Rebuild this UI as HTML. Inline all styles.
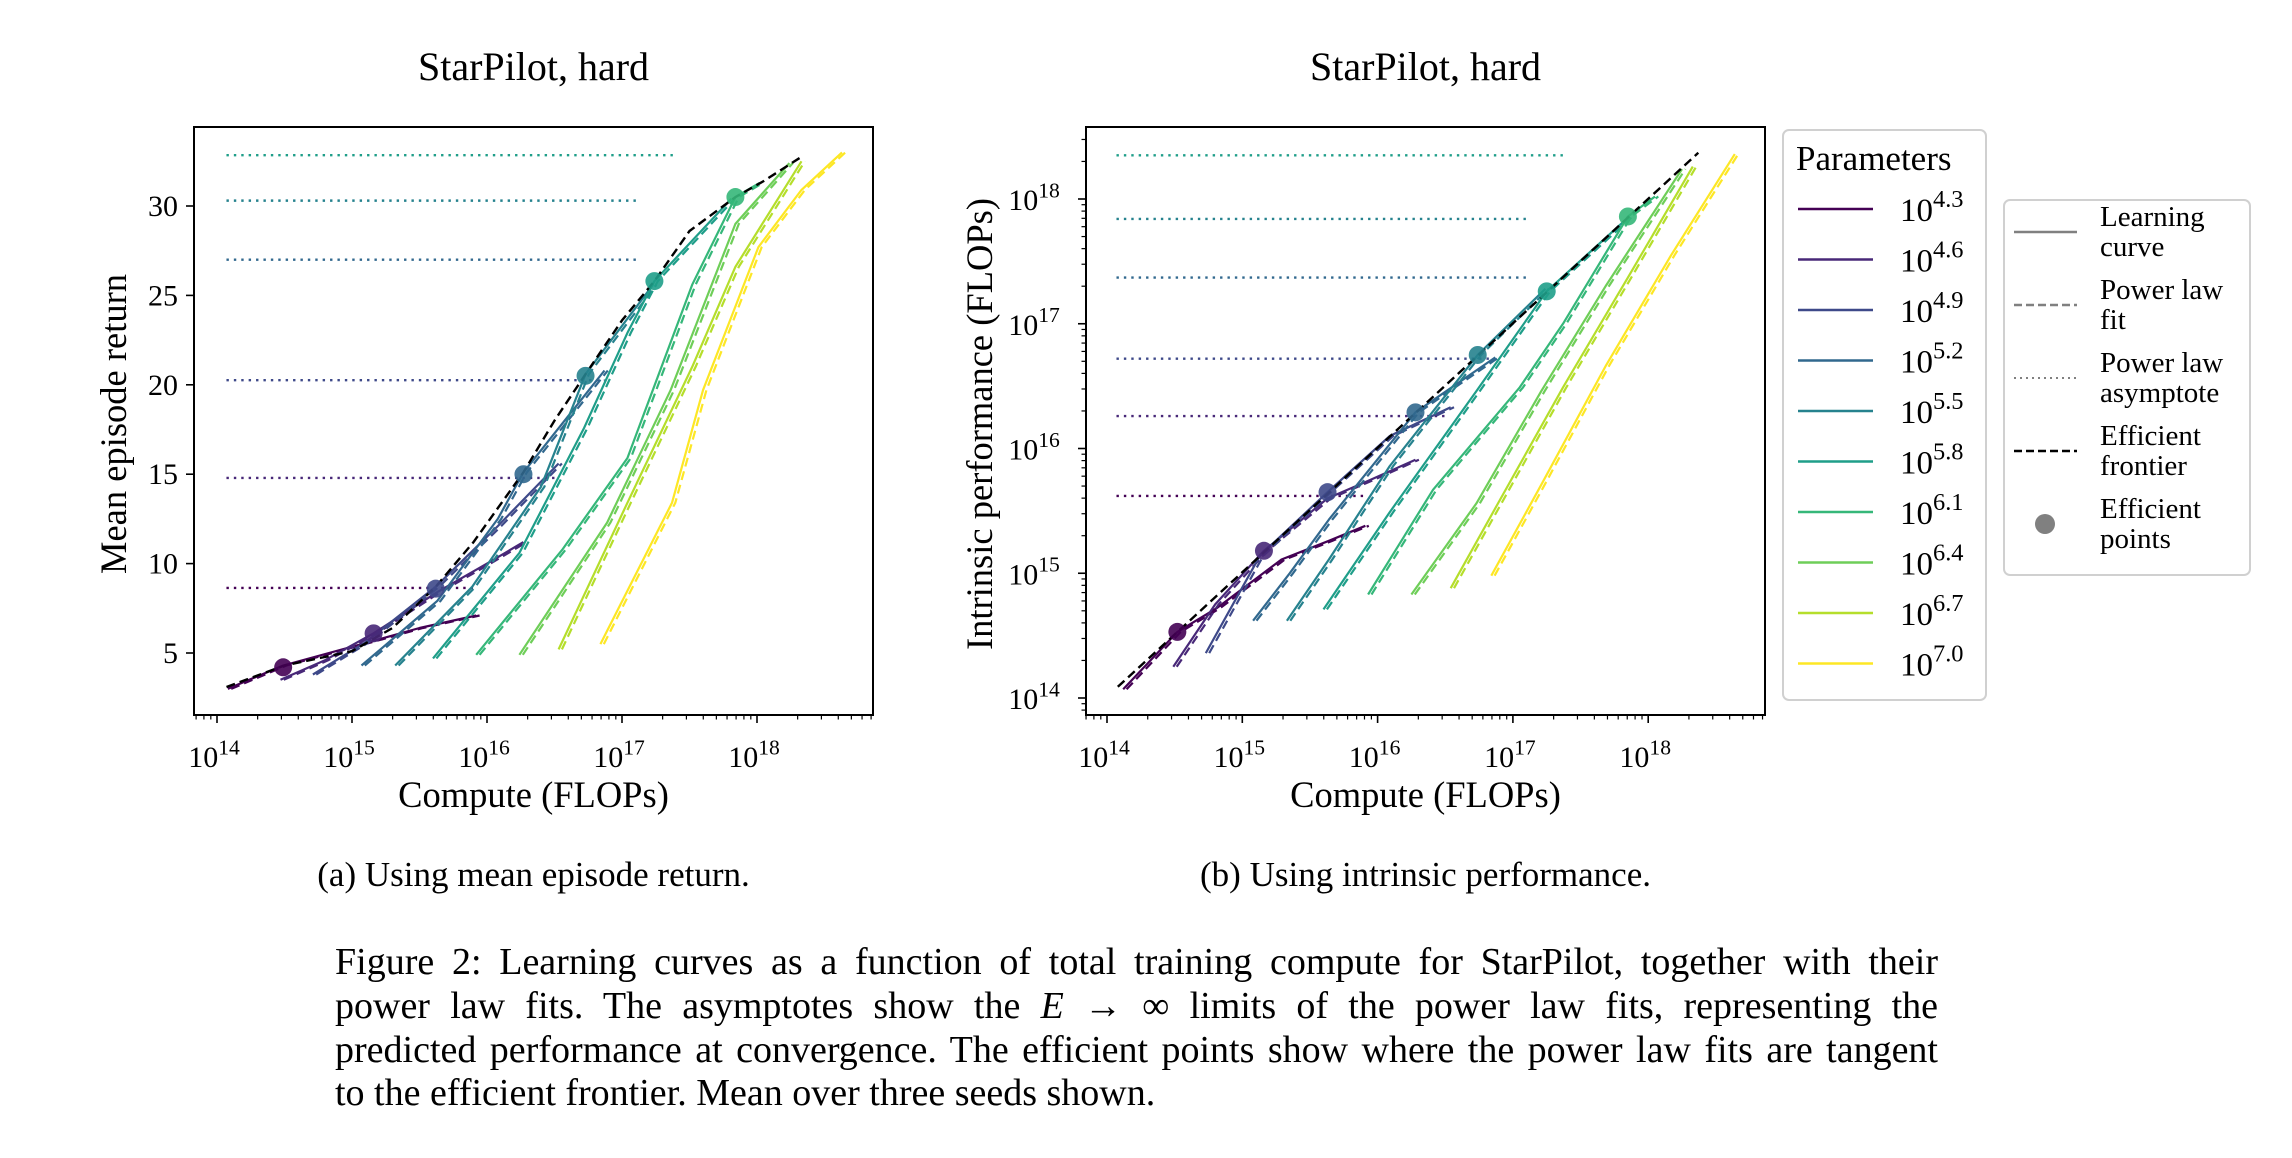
<!DOCTYPE html>
<html><head><meta charset="utf-8">
<style>
html,body{margin:0;padding:0;background:#fff;}
#wrap{position:relative;width:2292px;height:1158px;overflow:hidden;background:#fff;}
svg text{font-family:"Liberation Serif",serif;fill:#000;}
#cap{position:absolute;left:335px;top:941px;width:1603px;font-family:"Liberation Serif",serif;font-size:38px;line-height:43.8px;color:#000;}
#cap .ln{text-align:justify;text-align-last:justify;white-space:nowrap;}
#cap .ln.last{text-align-last:left;}
</style></head>
<body>
<div id="wrap">
<svg id="svg" width="2292" height="1158" xmlns="http://www.w3.org/2000/svg">
  <g id="gA"></g>
  <g id="gB"></g>
  <g id="gL"></g>
</svg>
<div id="cap">
<div class="ln">Figure 2: Learning curves as a function of total training compute for StarPilot, together with their</div>
<div class="ln">power law fits. The asymptotes show the <i>E</i> → ∞ limits of the power law fits, representing the</div>
<div class="ln">predicted performance at convergence. The efficient points show where the power law fits are tangent</div>
<div class="ln last">to the efficient frontier. Mean over three seeds shown.</div>
</div>
</div>
<script>
// ---------- data ----------
const paramExps = [4.3,4.6,4.9,5.2,5.5,5.8,6.1,6.4,6.7,7.0];
const palette = ["#440154","#482878","#3e4989","#31688e","#26828e","#1f9e89","#35b779","#6ece58","#b5de2b","#fde725"];

// Panel (a): log10 compute and mean episode return per model
const returnCompute = [
 [14.08,14.49,15.12,15.5,15.92],
 [14.47,14.8,15.16,15.63,16.0,16.27],
 [14.71,15.1,15.62,16.08,16.53],
 [15.07,15.63,16.08,16.27,16.87],
 [15.32,15.89,16.40,16.73,17.23],
 [15.60,16.24,16.72,17.04,17.24,17.81],
 [15.92,16.56,17.04,17.52,17.84,18.02],
 [16.24,16.89,17.36,17.84,18.24],
 [16.53,17.04,17.52,17.84,18.33],
 [16.84,17.37,17.60,18.01,18.33,18.63]
];
const returnValues = [
 [3.0,4.3,5.6,6.4,7.1],
 [3.5,4.6,6.1,8.4,10.0,11.2],
 [3.8,5.6,8.7,12.1,15.6],
 [4.3,7.9,12.5,15.1,20.8],
 [4.3,8.7,14.3,20.6,25.6],
 [4.7,10.6,17.6,22.9,25.8,30.4],
 [4.9,10.8,15.9,25.6,30.5,31.3],
 [4.9,12.3,19.7,29.0,32.4],
 [5.2,13.4,21.0,26.6,32.5],
 [5.5,13.4,19.7,27.7,30.9,33.0]
];
const frontierACompute = [14.07,14.5,15.0,15.3,15.62,15.9,16.27,16.5,16.73,17.0,17.24,17.5,17.84,18.05,18.34];
const frontierAReturn  = [3.1,4.3,5.1,6.4,8.7,11.2,15.1,18.0,20.6,23.6,25.8,28.6,30.5,31.4,32.8];
const effACompute = [14.49,15.16,15.62,16.27,16.73,17.24,17.84];
const effAReturn  = [4.2,6.1,8.6,15.0,20.5,25.8,30.5];
const asymAReturn = [8.64,14.79,20.26,27.0,30.3,32.84];
const asymEndFix  = [15.92,16.51,16.87,17.11,17.11,17.40];

// Panel (b): log10 compute and log10 intrinsic performance
const intrCompute = [
 [14.12,14.52,14.81,15.29,15.64,15.91],
 [14.49,14.8,15.16,15.63,15.93,16.28],
 [14.73,15.13,15.63,16.09,16.54],
 [15.08,15.35,15.64,16.28,16.87],
 [15.33,15.64,16.09,16.74,17.24],
 [15.60,16.09,16.73,17.25,17.85],
 [15.93,16.41,17.05,17.37,17.85,18.05],
 [16.25,16.73,17.21,17.69,18.25],
 [16.54,16.89,17.37,17.85,18.33],
 [16.84,17.21,17.69,18.17,18.64]
];
const intrValues = [
 [14.07,14.53,14.72,15.11,15.26,15.38],
 [14.25,14.75,15.18,15.6,15.74,15.91],
 [14.36,15.14,15.65,16.1,16.33],
 [14.62,15.0,15.43,16.29,16.73],
 [14.62,15.11,15.86,16.75,17.28],
 [14.71,15.49,16.46,17.26,17.85],
 [14.83,15.67,16.49,17.0,17.86,18.02],
 [14.83,15.56,16.46,17.31,18.24],
 [14.88,15.56,16.49,17.37,18.26],
 [14.98,15.71,16.67,17.55,18.36]
];
const frontierBCompute = [14.08,18.37];
const frontierBValue   = [14.09,18.37];
const effBCompute = [14.52,15.16,15.63,16.28,16.74,17.25,17.85];
const effBValue   = [14.53,15.18,15.65,16.29,16.75,17.26,17.86];
const asymBValue  = [15.62,16.26,16.72,17.37,17.84,18.35];

const xTickExps = [14,15,16,17,18];
const yTicksA = [5,10,15,20,25,30];
const yTickExpsB = [14,15,16,17,18];

// ---------- helpers ----------
const NS="http://www.w3.org/2000/svg";
function mk(tag,attrs,parent){const e=document.createElementNS(NS,tag);for(const k in attrs)e.setAttribute(k,attrs[k]);parent.appendChild(e);return e;}
function txt(parent,x,y,str,size,anchor){const t=mk('text',{x:x,y:y,'font-size':size,'text-anchor':anchor||'middle'},parent);t.textContent=str;return t;}
function pow10(parent,x,y,base,exp,size,anchor,supScale){
  const t=mk('text',{x:x,y:y,'font-size':size,'text-anchor':anchor||'middle'},parent);
  const a=document.createElementNS(NS,'tspan');a.textContent=base;t.appendChild(a);
  const b=document.createElementNS(NS,'tspan');b.textContent=exp;b.setAttribute('font-size',size*(supScale||0.7));b.setAttribute('dy',-size*0.42);t.appendChild(b);
  return t;}

const gA=document.getElementById('gA'), gB=document.getElementById('gB'), gL=document.getElementById('gL');

function panel(g,box,xS,yS,opts){
  const fr=mk('rect',{x:box.x0,y:box.y0,width:box.x1-box.x0,height:box.y1-box.y0,fill:'none',stroke:'#000','stroke-width':2},g);
  
  
  for(let d=13;d<=18;d++){
    for(let m=1;m<10;m++){
      const l=d+Math.log10(m); const x=xS(l);
      if(x<box.x0||x>box.x1) continue;
      const len=m===1?8:4.5;
      const tk=mk('line',{x1:x,x2:x,y1:box.y1,y2:box.y1+len,stroke:'#000','stroke-width':m===1?1.6:1.2},g);
      
      
    }
  }
  xTickExps.forEach(e=>{
    const t=pow10(g,xS(e)-3,box.y1+52,'10',String(e),30,'middle',0.72);
    
    
  });
  const xl=txt(g,(box.x0+box.x1)/2,box.y1+92,'Compute (FLOPs)',36.5);
  
  
  opts.yAxis(g);
  const tt=txt(g,(box.x0+box.x1)/2,80,'StarPilot, hard',40);
  
  
  const cp=txt(g,(box.x0+box.x1)/2,886,opts.caption,35);
  
  
}
function pathD(xs,ys,xS,yS,dx){return xs.map((v,i)=>(i?'L':'M')+xS(v+(dx||0)).toFixed(1)+','+yS(ys[i]).toFixed(1)).join(' ');}

function series(g,xS,yS,cx,cy,fx,fy,ex,ey,asy,x0log){
  asy.forEach((v,i)=>{
    const a=mk('line',{x1:xS(x0log),x2:xS(asymEndFix[i]),y1:yS(v),y2:yS(v),stroke:palette[i],'stroke-width':2.4,'stroke-dasharray':'2.4 5'},g);
    
    
  });
  cx.forEach((xs,i)=>{
    const f=mk('path',{d:pathD(xs,cy[i],xS,yS,0.025),fill:'none',stroke:palette[i],'stroke-width':2.2,'stroke-dasharray':'9 5'},g);
    
    
    const c=mk('path',{d:pathD(xs,cy[i],xS,yS,0),fill:'none',stroke:palette[i],'stroke-width':2.2,'stroke-linejoin':'round'},g);
    
    
  });
  const fr=mk('path',{d:pathD(fx,fy,xS,yS,0),fill:'none',stroke:'#000','stroke-width':2.4,'stroke-dasharray':'9 5'},g);
  
  
  ex.forEach((v,i)=>{
    const p=mk('circle',{cx:xS(v),cy:yS(ey[i]),r:9,fill:palette[i],'fill-opacity':0.9},g);
    
    
  });
}

// ---------- panel A ----------
const boxA={x0:194,x1:873,y0:127,y1:715};
const xA=l=>217+(l-14)*135;
const yA=v=>653-(v-5)*17.88;
series(gA,xA,yA,returnCompute,returnValues,frontierACompute,frontierAReturn,effACompute,effAReturn,asymAReturn,14.07);
panel(gA,boxA,xA,yA,{caption:'(a) Using mean episode return.',yAxis:g=>{
  yTicksA.forEach(v=>{
    const tk=mk('line',{x1:boxA.x0-8,x2:boxA.x0,y1:yA(v),y2:yA(v),stroke:'#000','stroke-width':1.6},g);
    
    
    const t=txt(g,boxA.x0-16,yA(v)+10,String(v),30,'end');
    
    
  });
  const yl=txt(g,0,0,'Mean episode return',36.5);
  yl.setAttribute('transform','translate(126,424) rotate(-90)');
  
  
}});

// ---------- panel B ----------
const boxB={x0:1086,x1:1765,y0:127,y1:715};
const xB=l=>1107+(l-14)*135.3;
const yB=l=>698-(l-14)*124.75;
series(gB,xB,yB,intrCompute,intrValues,frontierBCompute,frontierBValue,effBCompute,effBValue,asymBValue,14.07);
panel(gB,boxB,xB,yB,{caption:'(b) Using intrinsic performance.',yAxis:g=>{
  for(let d=13;d<=18;d++){for(let m=1;m<10;m++){
    const l=d+Math.log10(m), y=yB(l);
    if(y<boxB.y0||y>boxB.y1) continue;
    const tk=mk('line',{x1:boxB.x0-(m===1?8:4.5),x2:boxB.x0,y1:y,y2:y,stroke:'#000','stroke-width':m===1?1.6:1.2},g);
    
    
  }}
  yTickExpsB.forEach(e=>{
    const t=pow10(g,boxB.x0-52,yB(e)+11,'10',String(e),30,'middle',0.72);
    
    
  });
  const yl=txt(g,0,0,'Intrinsic performance (FLOPs)',36.5);
  yl.setAttribute('transform','translate(992,424) rotate(-90)');
  
  
}});

// ---------- legends ----------
const l1=mk('rect',{x:1783,y:130,width:203,height:570,rx:6,fill:'#fff',stroke:'#d0d0d0','stroke-width':2},gL);


const lt=txt(gL,1796,170,'Parameters',35,'start');


paramExps.forEach((e,i)=>{
  const y=209+i*50.5;
  const ln=mk('line',{x1:1798,x2:1873,y1:y,y2:y,stroke:palette[i],'stroke-width':2.4},gL);
  
  
  const t=pow10(gL,1900,y+12,'10',e.toFixed(1),33,'start',0.74);
  
  
});
const l2=mk('rect',{x:2004,y:200,width:246,height:375,rx:6,fill:'#fff',stroke:'#d0d0d0','stroke-width':2},gL);


const styleLabels=[['Learning','curve'],['Power law','fit'],['Power law','asymptote'],['Efficient','frontier'],['Efficient','points']];
styleLabels.forEach((lab,i)=>{
  const y=232+i*73;
  let m;
  if(i===0) m=mk('line',{x1:2014,x2:2077,y1:y,y2:y,stroke:'#808080','stroke-width':2.4},gL);
  if(i===1) m=mk('line',{x1:2014,x2:2077,y1:y,y2:y,stroke:'#808080','stroke-width':2.4,'stroke-dasharray':'8 4'},gL);
  if(i===2) m=mk('line',{x1:2014,x2:2077,y1:y,y2:y,stroke:'#808080','stroke-width':2,'stroke-dasharray':'2 4'},gL);
  if(i===3) m=mk('line',{x1:2014,x2:2077,y1:y,y2:y,stroke:'#000','stroke-width':2.4,'stroke-dasharray':'8 4'},gL);
  if(i===4) m=mk('circle',{cx:2045,cy:y,r:10,fill:'#808080'},gL);
  
  
  const t1=txt(gL,2100,y-6,lab[0],29,'start');
  
  
  const t2=txt(gL,2100,y+24,lab[1],29,'start');
  
  
});
</script>
</body></html>
